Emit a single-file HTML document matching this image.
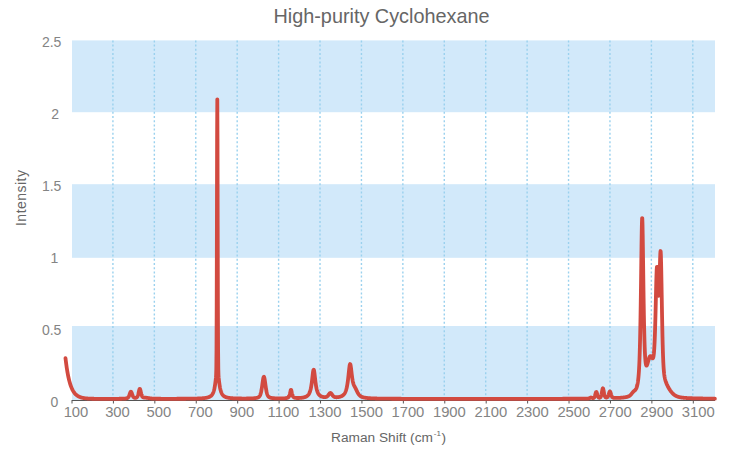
<!DOCTYPE html>
<html><head><meta charset="utf-8"><style>
html,body{margin:0;padding:0;background:#fff;width:745px;height:463px;overflow:hidden}
svg{display:block}
text{font-family:"Liberation Sans",sans-serif}
</style></head><body>
<svg width="745" height="463" viewBox="0 0 745 463">
<text transform="translate(381.5,23.2) scale(0.945,1)" font-size="21" fill="#666" text-anchor="middle">High-purity Cyclohexane</text>
<rect x="72" y="40.4" width="643" height="71.8" fill="#d2e9fa"/><rect x="72" y="184.2" width="643" height="73.6" fill="#d2e9fa"/><rect x="72" y="326" width="643" height="74.5" fill="#d2e9fa"/>
<g stroke="#9ad1ee" stroke-width="1.4" stroke-dasharray="2,2.2"><line x1="112.92" y1="40.4" x2="112.92" y2="400" /><line x1="154.34" y1="40.4" x2="154.34" y2="400" /><line x1="195.76" y1="40.4" x2="195.76" y2="400" /><line x1="237.18" y1="40.4" x2="237.18" y2="400" /><line x1="278.60" y1="40.4" x2="278.60" y2="400" /><line x1="320.02" y1="40.4" x2="320.02" y2="400" /><line x1="361.44" y1="40.4" x2="361.44" y2="400" /><line x1="402.86" y1="40.4" x2="402.86" y2="400" /><line x1="444.28" y1="40.4" x2="444.28" y2="400" /><line x1="485.70" y1="40.4" x2="485.70" y2="400" /><line x1="527.12" y1="40.4" x2="527.12" y2="400" /><line x1="568.54" y1="40.4" x2="568.54" y2="400" /><line x1="609.96" y1="40.4" x2="609.96" y2="400" /><line x1="651.38" y1="40.4" x2="651.38" y2="400" /><line x1="692.80" y1="40.4" x2="692.80" y2="400" /></g>
<g fill="#848484" font-size="14" text-anchor="end"><text x="58.2" y="406.6">0</text><text x="61.4" y="334.5">0.5</text><text x="58.4" y="262.5">1</text><text x="61.4" y="190.5">1.5</text><text x="59" y="118.9">2</text><text x="61.4" y="46.8">2.5</text></g>
<g fill="#848484" font-size="14.8" text-anchor="middle"><text x="76.00" y="417.4">100</text><text x="117.49" y="417.4">300</text><text x="158.97" y="417.4">500</text><text x="200.46" y="417.4">700</text><text x="241.95" y="417.4">900</text><text x="283.43" y="417.4">1100</text><text x="324.92" y="417.4">1300</text><text x="366.41" y="417.4">1500</text><text x="407.89" y="417.4">1700</text><text x="449.38" y="417.4">1900</text><text x="490.87" y="417.4">2100</text><text x="532.35" y="417.4">2300</text><text x="573.84" y="417.4">2500</text><text x="615.33" y="417.4">2700</text><text x="656.81" y="417.4">2900</text><text x="698.30" y="417.4">3100</text></g>
<text transform="translate(26.3,198) rotate(-90)" font-size="14" fill="#666" text-anchor="middle" textLength="56" lengthAdjust="spacing">Intensity</text>
<text x="331" y="441.7" font-size="13.7" fill="#666">Raman Shift (cm<tspan font-size="8" dx="0.8" dy="-5.5">-1</tspan><tspan dx="0.6" dy="5.5">)</tspan></text>
<line x1="72" y1="400.5" x2="715" y2="400.5" stroke="#555" stroke-width="1"/>
<g stroke="#555" stroke-width="1"><line x1="72.00" y1="400" x2="72.00" y2="403.5" /><line x1="113.42" y1="400" x2="113.42" y2="403.5" /><line x1="154.84" y1="400" x2="154.84" y2="403.5" /><line x1="196.26" y1="400" x2="196.26" y2="403.5" /><line x1="237.68" y1="400" x2="237.68" y2="403.5" /><line x1="279.10" y1="400" x2="279.10" y2="403.5" /><line x1="320.52" y1="400" x2="320.52" y2="403.5" /><line x1="361.94" y1="400" x2="361.94" y2="403.5" /><line x1="403.36" y1="400" x2="403.36" y2="403.5" /><line x1="444.78" y1="400" x2="444.78" y2="403.5" /><line x1="486.20" y1="400" x2="486.20" y2="403.5" /><line x1="527.62" y1="400" x2="527.62" y2="403.5" /><line x1="569.04" y1="400" x2="569.04" y2="403.5" /><line x1="610.46" y1="400" x2="610.46" y2="403.5" /><line x1="651.88" y1="400" x2="651.88" y2="403.5" /><line x1="693.30" y1="400" x2="693.30" y2="403.5" /></g>
<path d="M65.5,358.18 L65.7,359.89 L65.9,361.53 L66.1,363.10 L66.3,364.60 L66.5,366.04 L66.7,367.42 L66.9,368.74 L67.1,370.01 L67.3,371.22 L67.5,372.38 L67.7,373.50 L67.9,374.56 L68.1,375.58 L68.3,376.56 L68.5,377.50 L68.7,378.40 L68.9,379.26 L69.1,380.08 L69.3,380.87 L69.5,381.63 L69.7,382.35 L69.9,383.05 L70.1,383.71 L70.3,384.35 L70.5,384.96 L70.7,385.54 L70.9,386.10 L71.1,386.64 L71.3,387.16 L71.5,387.65 L71.7,388.12 L71.9,388.57 L72.1,389.00 L72.3,389.42 L72.5,389.82 L72.7,390.20 L72.9,390.56 L73.1,390.91 L73.3,391.25 L73.5,391.57 L73.7,391.87 L73.9,392.17 L74.1,392.45 L74.3,392.72 L74.5,392.98 L74.7,393.23 L74.9,393.46 L75.1,393.69 L75.3,393.91 L75.5,394.12 L75.7,394.32 L75.9,394.51 L76.1,394.69 L76.3,394.87 L76.5,395.04 L76.7,395.20 L76.9,395.35 L77.1,395.50 L77.3,395.64 L77.5,395.78 L77.7,395.91 L77.9,396.03 L78.1,396.15 L78.3,396.27 L78.5,396.38 L78.7,396.48 L78.9,396.58 L79.1,396.68 L79.3,396.77 L79.5,396.86 L79.7,396.94 L79.9,397.02 L80.1,397.10 L80.3,397.18 L80.5,397.25 L80.7,397.32 L80.9,397.38 L81.1,397.44 L81.3,397.50 L81.5,397.56 L81.7,397.62 L81.9,397.67 L82.1,397.72 L82.3,397.77 L82.5,397.81 L82.7,397.86 L82.9,397.90 L83.1,397.94 L83.3,397.98 L83.5,398.02 L83.7,398.05 L83.9,398.09 L84.1,398.12 L84.3,398.15 L84.5,398.18 L84.7,398.21 L84.9,398.24 L85.1,398.27 L85.3,398.29 L85.5,398.32 L85.7,398.34 L85.9,398.36 L86.1,398.38 L86.3,398.40 L86.5,398.42 L86.7,398.44 L86.9,398.46 L87.1,398.48 L87.3,398.49 L87.5,398.51 L87.7,398.52 L87.9,398.54 L88.1,398.55 L88.3,398.57 L88.5,398.58 L88.7,398.59 L88.9,398.60 L89.1,398.61 L89.3,398.62 L89.5,398.63 L89.7,398.64 L89.9,398.65 L90.1,398.66 L90.3,398.67 L90.5,398.68 L90.7,398.69 L90.9,398.69 L91.1,398.70 L91.3,398.71 L91.5,398.71 L91.7,398.72 L91.9,398.73 L92.1,398.73 L92.3,398.74 L92.5,398.74 L92.7,398.75 L92.9,398.75 L93.1,398.76 L93.3,398.76 L93.5,398.77 L93.7,398.77 L93.9,398.77 L94.1,398.78 L94.3,398.78 L94.5,398.78 L94.7,398.79 L94.9,398.79 L95.1,398.79 L95.3,398.80 L95.5,398.80 L95.7,398.80 L95.9,398.80 L96.1,398.81 L96.3,398.81 L96.5,398.81 L96.7,398.81 L96.9,398.81 L97.1,398.82 L97.3,398.82 L97.5,398.82 L97.7,398.82 L97.9,398.82 L98.1,398.82 L98.3,398.83 L98.5,398.83 L98.7,398.83 L98.9,398.83 L99.1,398.83 L99.3,398.83 L99.5,398.83 L99.7,398.83 L99.9,398.83 L100.1,398.84 L100.3,398.84 L100.5,398.84 L100.7,398.84 L100.9,398.84 L101.1,398.84 L101.3,398.84 L101.5,398.84 L101.7,398.84 L101.9,398.84 L102.1,398.84 L102.3,398.84 L102.5,398.84 L102.7,398.84 L102.9,398.84 L103.1,398.84 L103.3,398.84 L103.5,398.84 L103.7,398.84 L103.9,398.84 L104.1,398.84 L104.3,398.84 L104.5,398.84 L104.7,398.84 L104.9,398.84 L105.1,398.84 L105.3,398.84 L105.5,398.84 L105.7,398.84 L105.9,398.84 L106.1,398.84 L106.3,398.84 L106.5,398.84 L106.7,398.84 L106.9,398.84 L107.1,398.84 L107.3,398.84 L107.5,398.84 L107.7,398.84 L107.9,398.84 L108.1,398.84 L108.3,398.84 L108.5,398.84 L108.7,398.84 L108.9,398.84 L109.1,398.84 L109.3,398.84 L109.5,398.84 L109.7,398.84 L109.9,398.84 L110.1,398.83 L110.3,398.83 L110.5,398.83 L110.7,398.83 L110.9,398.83 L111.1,398.83 L111.3,398.83 L111.5,398.83 L111.7,398.83 L111.9,398.83 L112.1,398.83 L112.3,398.83 L112.5,398.83 L112.7,398.83 L112.9,398.82 L113.1,398.82 L113.3,398.82 L113.5,398.82 L113.7,398.82 L113.9,398.82 L114.1,398.82 L114.3,398.82 L114.5,398.82 L114.7,398.82 L114.9,398.81 L115.1,398.81 L115.3,398.81 L115.5,398.81 L115.7,398.81 L115.9,398.81 L116.1,398.81 L116.3,398.80 L116.5,398.80 L116.7,398.80 L116.9,398.80 L117.1,398.80 L117.3,398.79 L117.5,398.79 L117.7,398.79 L117.9,398.79 L118.1,398.79 L118.3,398.78 L118.5,398.78 L118.7,398.78 L118.9,398.78 L119.1,398.77 L119.3,398.77 L119.5,398.77 L119.7,398.76 L119.9,398.76 L120.1,398.76 L120.3,398.75 L120.5,398.75 L120.7,398.75 L120.9,398.74 L121.1,398.74 L121.3,398.73 L121.5,398.73 L121.7,398.72 L121.9,398.72 L122.1,398.71 L122.3,398.71 L122.5,398.70 L122.7,398.69 L122.9,398.68 L123.1,398.68 L123.3,398.67 L123.5,398.66 L123.7,398.65 L123.9,398.64 L124.1,398.63 L124.3,398.62 L124.5,398.60 L124.7,398.59 L124.9,398.57 L125.1,398.56 L125.3,398.54 L125.5,398.52 L125.7,398.49 L125.9,398.47 L126.1,398.44 L126.3,398.40 L126.5,398.36 L126.7,398.31 L126.9,398.26 L127.1,398.18 L127.3,398.10 L127.5,397.99 L127.7,397.85 L127.9,397.69 L128.1,397.49 L128.3,397.24 L128.5,396.95 L128.7,396.60 L128.9,396.20 L129.1,395.75 L129.3,395.24 L129.5,394.70 L129.7,394.12 L129.9,393.54 L130.1,392.98 L130.3,392.47 L130.5,392.07 L130.7,391.80 L130.9,391.70 L131.1,391.78 L131.3,392.04 L131.5,392.43 L131.7,392.92 L131.9,393.47 L132.1,394.04 L132.3,394.60 L132.5,395.13 L132.7,395.61 L132.9,396.05 L133.1,396.43 L133.3,396.76 L133.5,397.03 L133.7,397.25 L133.9,397.43 L134.1,397.57 L134.3,397.68 L134.5,397.76 L134.7,397.81 L134.9,397.84 L135.1,397.86 L135.3,397.86 L135.5,397.85 L135.7,397.83 L135.9,397.79 L136.1,397.73 L136.3,397.65 L136.5,397.55 L136.7,397.42 L136.9,397.24 L137.1,397.02 L137.3,396.74 L137.5,396.39 L137.7,395.95 L137.9,395.42 L138.1,394.80 L138.3,394.08 L138.5,393.28 L138.7,392.40 L138.9,391.48 L139.1,390.58 L139.3,389.77 L139.5,389.15 L139.7,388.81 L139.9,388.80 L140.1,389.13 L140.3,389.73 L140.5,390.52 L140.7,391.40 L140.9,392.30 L141.1,393.16 L141.3,393.95 L141.5,394.65 L141.7,395.26 L141.9,395.77 L142.1,396.18 L142.3,396.52 L142.5,396.79 L142.7,397.00 L142.9,397.16 L143.1,397.28 L143.3,397.37 L143.5,397.44 L143.7,397.50 L143.9,397.54 L144.1,397.57 L144.3,397.60 L144.5,397.62 L144.7,397.63 L144.9,397.65 L145.1,397.66 L145.3,397.68 L145.5,397.69 L145.7,397.71 L145.9,397.72 L146.1,397.74 L146.3,397.76 L146.5,397.78 L146.7,397.81 L146.9,397.83 L147.1,397.86 L147.3,397.89 L147.5,397.92 L147.7,397.95 L147.9,397.99 L148.1,398.02 L148.3,398.05 L148.5,398.08 L148.7,398.12 L148.9,398.15 L149.1,398.18 L149.3,398.21 L149.5,398.25 L149.7,398.28 L149.9,398.31 L150.1,398.33 L150.3,398.36 L150.5,398.39 L150.7,398.41 L150.9,398.44 L151.1,398.46 L151.3,398.48 L151.5,398.50 L151.7,398.52 L151.9,398.54 L152.1,398.56 L152.3,398.57 L152.5,398.59 L152.7,398.60 L152.9,398.61 L153.1,398.63 L153.3,398.64 L153.5,398.65 L153.7,398.66 L153.9,398.67 L154.1,398.67 L154.3,398.68 L154.5,398.69 L154.7,398.70 L154.9,398.70 L155.1,398.71 L155.3,398.71 L155.5,398.72 L155.7,398.72 L155.9,398.73 L156.1,398.73 L156.3,398.73 L156.5,398.74 L156.7,398.74 L156.9,398.74 L157.1,398.74 L157.3,398.75 L157.5,398.75 L157.7,398.75 L157.9,398.75 L158.1,398.76 L158.3,398.76 L158.5,398.76 L158.7,398.76 L158.9,398.76 L159.1,398.76 L159.3,398.77 L159.5,398.77 L159.7,398.77 L159.9,398.77 L160.1,398.77 L160.3,398.77 L160.5,398.77 L160.7,398.77 L160.9,398.78 L161.1,398.78 L161.3,398.78 L161.5,398.78 L161.7,398.78 L161.9,398.78 L162.1,398.78 L162.3,398.78 L162.5,398.78 L162.7,398.78 L162.9,398.78 L163.1,398.78 L163.3,398.78 L163.5,398.78 L163.7,398.78 L163.9,398.79 L164.1,398.79 L164.3,398.79 L164.5,398.79 L164.7,398.79 L164.9,398.79 L165.1,398.79 L165.3,398.79 L165.5,398.79 L165.7,398.79 L165.9,398.79 L166.1,398.79 L166.3,398.79 L166.5,398.79 L166.7,398.79 L166.9,398.79 L167.1,398.79 L167.3,398.79 L167.5,398.79 L167.7,398.79 L167.9,398.79 L168.1,398.79 L168.3,398.79 L168.5,398.79 L168.7,398.79 L168.9,398.79 L169.1,398.79 L169.3,398.79 L169.5,398.79 L169.7,398.79 L169.9,398.79 L170.1,398.79 L170.3,398.79 L170.5,398.79 L170.7,398.79 L170.9,398.79 L171.1,398.79 L171.3,398.79 L171.5,398.79 L171.7,398.79 L171.9,398.79 L172.1,398.79 L172.3,398.79 L172.5,398.79 L172.7,398.79 L172.9,398.78 L173.1,398.78 L173.3,398.78 L173.5,398.78 L173.7,398.78 L173.9,398.78 L174.1,398.78 L174.3,398.78 L174.5,398.78 L174.7,398.78 L174.9,398.78 L175.1,398.78 L175.3,398.78 L175.5,398.78 L175.7,398.78 L175.9,398.78 L176.1,398.78 L176.3,398.78 L176.5,398.78 L176.7,398.78 L176.9,398.77 L177.1,398.77 L177.3,398.77 L177.5,398.77 L177.7,398.77 L177.9,398.77 L178.1,398.77 L178.3,398.77 L178.5,398.77 L178.7,398.77 L178.9,398.77 L179.1,398.77 L179.3,398.77 L179.5,398.76 L179.7,398.76 L179.9,398.76 L180.1,398.76 L180.3,398.76 L180.5,398.76 L180.7,398.76 L180.9,398.76 L181.1,398.76 L181.3,398.76 L181.5,398.75 L181.7,398.75 L181.9,398.75 L182.1,398.75 L182.3,398.75 L182.5,398.75 L182.7,398.75 L182.9,398.75 L183.1,398.75 L183.3,398.74 L183.5,398.74 L183.7,398.74 L183.9,398.74 L184.1,398.74 L184.3,398.74 L184.5,398.74 L184.7,398.73 L184.9,398.73 L185.1,398.73 L185.3,398.73 L185.5,398.73 L185.7,398.73 L185.9,398.72 L186.1,398.72 L186.3,398.72 L186.5,398.72 L186.7,398.72 L186.9,398.72 L187.1,398.71 L187.3,398.71 L187.5,398.71 L187.7,398.71 L187.9,398.71 L188.1,398.70 L188.3,398.70 L188.5,398.70 L188.7,398.70 L188.9,398.70 L189.1,398.69 L189.3,398.69 L189.5,398.69 L189.7,398.69 L189.9,398.68 L190.1,398.68 L190.3,398.68 L190.5,398.68 L190.7,398.67 L190.9,398.67 L191.1,398.67 L191.3,398.66 L191.5,398.66 L191.7,398.66 L191.9,398.65 L192.1,398.65 L192.3,398.65 L192.5,398.64 L192.7,398.64 L192.9,398.64 L193.1,398.63 L193.3,398.63 L193.5,398.63 L193.7,398.62 L193.9,398.62 L194.1,398.61 L194.3,398.61 L194.5,398.61 L194.7,398.60 L194.9,398.60 L195.1,398.59 L195.3,398.59 L195.5,398.58 L195.7,398.58 L195.9,398.57 L196.1,398.57 L196.3,398.56 L196.5,398.55 L196.7,398.55 L196.9,398.54 L197.1,398.54 L197.3,398.53 L197.5,398.52 L197.7,398.52 L197.9,398.51 L198.1,398.50 L198.3,398.49 L198.5,398.49 L198.7,398.48 L198.9,398.47 L199.1,398.46 L199.3,398.45 L199.5,398.44 L199.7,398.43 L199.9,398.42 L200.1,398.41 L200.3,398.40 L200.5,398.39 L200.7,398.38 L200.9,398.37 L201.1,398.36 L201.3,398.35 L201.5,398.33 L201.7,398.32 L201.9,398.31 L202.1,398.29 L202.3,398.28 L202.5,398.26 L202.7,398.25 L202.9,398.23 L203.1,398.21 L203.3,398.19 L203.5,398.17 L203.7,398.15 L203.9,398.13 L204.1,398.11 L204.3,398.09 L204.5,398.07 L204.7,398.04 L204.9,398.02 L205.1,397.99 L205.3,397.96 L205.5,397.93 L205.7,397.90 L205.9,397.87 L206.1,397.83 L206.3,397.80 L206.5,397.76 L206.7,397.72 L206.9,397.68 L207.1,397.63 L207.3,397.58 L207.5,397.53 L207.7,397.48 L207.9,397.42 L208.1,397.36 L208.3,397.30 L208.5,397.23 L208.7,397.16 L208.9,397.08 L209.1,397.00 L209.3,396.92 L209.5,396.82 L209.7,396.72 L209.9,396.61 L210.1,396.50 L210.3,396.37 L210.5,396.24 L210.7,396.09 L210.9,395.93 L211.1,395.76 L211.3,395.57 L211.5,395.37 L211.7,395.15 L211.9,394.91 L212.1,394.64 L212.3,394.35 L212.5,394.03 L212.7,393.67 L212.9,393.28 L213.1,392.85 L213.3,392.36 L213.5,391.83 L213.7,391.23 L213.9,390.56 L214.1,389.81 L214.3,388.98 L214.5,388.04 L214.7,387.00 L214.9,385.83 L215.1,384.54 L215.3,383.11 L215.5,381.55 L215.7,379.85 L215.9,377.95 L216.1,375.29 L216.3,369.09 L216.5,350.85 L216.7,305.61 L216.9,226.17 L217.1,138.81 L217.3,99.34 L217.5,138.81 L217.7,226.17 L217.9,305.61 L218.1,350.84 L218.3,369.09 L218.5,375.28 L218.7,377.95 L218.9,379.84 L219.1,381.54 L219.3,383.11 L219.5,384.53 L219.7,385.83 L219.9,386.99 L220.1,388.04 L220.3,388.97 L220.5,389.80 L220.7,390.55 L220.9,391.22 L221.1,391.82 L221.3,392.35 L221.5,392.83 L221.7,393.27 L221.9,393.66 L222.1,394.01 L222.3,394.33 L222.5,394.62 L222.7,394.89 L222.9,395.13 L223.1,395.35 L223.3,395.56 L223.5,395.74 L223.7,395.91 L223.9,396.07 L224.1,396.22 L224.3,396.35 L224.5,396.48 L224.7,396.59 L224.9,396.70 L225.1,396.80 L225.3,396.89 L225.5,396.98 L225.7,397.06 L225.9,397.14 L226.1,397.21 L226.3,397.27 L226.5,397.34 L226.7,397.40 L226.9,397.45 L227.1,397.50 L227.3,397.55 L227.5,397.60 L227.7,397.64 L227.9,397.69 L228.1,397.73 L228.3,397.76 L228.5,397.80 L228.7,397.83 L228.9,397.86 L229.1,397.89 L229.3,397.92 L229.5,397.95 L229.7,397.98 L229.9,398.00 L230.1,398.03 L230.3,398.05 L230.5,398.07 L230.7,398.09 L230.9,398.11 L231.1,398.13 L231.3,398.15 L231.5,398.17 L231.7,398.18 L231.9,398.20 L232.1,398.21 L232.3,398.23 L232.5,398.24 L232.7,398.26 L232.9,398.27 L233.1,398.28 L233.3,398.29 L233.5,398.30 L233.7,398.32 L233.9,398.33 L234.1,398.34 L234.3,398.35 L234.5,398.35 L234.7,398.36 L234.9,398.37 L235.1,398.38 L235.3,398.39 L235.5,398.40 L235.7,398.40 L235.9,398.41 L236.1,398.42 L236.3,398.42 L236.5,398.43 L236.7,398.44 L236.9,398.44 L237.1,398.45 L237.3,398.45 L237.5,398.46 L237.7,398.46 L237.9,398.47 L238.1,398.47 L238.3,398.48 L238.5,398.48 L238.7,398.49 L238.9,398.49 L239.1,398.49 L239.3,398.50 L239.5,398.50 L239.7,398.50 L239.9,398.51 L240.1,398.51 L240.3,398.51 L240.5,398.51 L240.7,398.52 L240.9,398.52 L241.1,398.52 L241.3,398.52 L241.5,398.52 L241.7,398.53 L241.9,398.53 L242.1,398.53 L242.3,398.53 L242.5,398.53 L242.7,398.53 L242.9,398.53 L243.1,398.53 L243.3,398.53 L243.5,398.53 L243.7,398.53 L243.9,398.54 L244.1,398.54 L244.3,398.54 L244.5,398.53 L244.7,398.53 L244.9,398.53 L245.1,398.53 L245.3,398.53 L245.5,398.53 L245.7,398.53 L245.9,398.53 L246.1,398.53 L246.3,398.53 L246.5,398.52 L246.7,398.52 L246.9,398.52 L247.1,398.52 L247.3,398.52 L247.5,398.51 L247.7,398.51 L247.9,398.51 L248.1,398.50 L248.3,398.50 L248.5,398.50 L248.7,398.49 L248.9,398.49 L249.1,398.49 L249.3,398.48 L249.5,398.48 L249.7,398.47 L249.9,398.46 L250.1,398.46 L250.3,398.45 L250.5,398.45 L250.7,398.44 L250.9,398.43 L251.1,398.42 L251.3,398.42 L251.5,398.41 L251.7,398.40 L251.9,398.39 L252.1,398.38 L252.3,398.37 L252.5,398.36 L252.7,398.35 L252.9,398.33 L253.1,398.32 L253.3,398.31 L253.5,398.29 L253.7,398.27 L253.9,398.26 L254.1,398.24 L254.3,398.22 L254.5,398.20 L254.7,398.18 L254.9,398.16 L255.1,398.13 L255.3,398.10 L255.5,398.08 L255.7,398.05 L255.9,398.01 L256.1,397.98 L256.3,397.94 L256.5,397.90 L256.7,397.86 L256.9,397.81 L257.1,397.76 L257.3,397.70 L257.5,397.64 L257.7,397.57 L257.9,397.49 L258.1,397.41 L258.3,397.31 L258.5,397.19 L258.7,397.06 L258.9,396.91 L259.1,396.73 L259.3,396.53 L259.5,396.28 L259.7,395.99 L259.9,395.64 L260.1,395.24 L260.3,394.76 L260.5,394.20 L260.7,393.56 L260.9,392.81 L261.1,391.97 L261.3,391.02 L261.5,389.96 L261.7,388.80 L261.9,387.54 L262.1,386.20 L262.3,384.79 L262.5,383.35 L262.7,381.91 L262.9,380.53 L263.1,379.26 L263.3,378.19 L263.5,377.37 L263.7,376.87 L263.9,376.74 L264.1,376.98 L264.3,377.58 L264.5,378.48 L264.7,379.63 L264.9,380.93 L265.1,382.34 L265.3,383.78 L265.5,385.21 L265.7,386.60 L265.9,387.92 L266.1,389.15 L266.3,390.29 L266.5,391.31 L266.7,392.23 L266.9,393.04 L267.1,393.75 L267.3,394.37 L267.5,394.90 L267.7,395.35 L267.9,395.74 L268.1,396.07 L268.3,396.35 L268.5,396.58 L268.7,396.78 L268.9,396.95 L269.1,397.09 L269.3,397.22 L269.5,397.32 L269.7,397.42 L269.9,397.50 L270.1,397.58 L270.3,397.64 L270.5,397.70 L270.7,397.76 L270.9,397.81 L271.1,397.85 L271.3,397.89 L271.5,397.93 L271.7,397.97 L271.9,398.00 L272.1,398.03 L272.3,398.06 L272.5,398.09 L272.7,398.11 L272.9,398.14 L273.1,398.16 L273.3,398.18 L273.5,398.20 L273.7,398.22 L273.9,398.23 L274.1,398.25 L274.3,398.26 L274.5,398.28 L274.7,398.29 L274.9,398.30 L275.1,398.31 L275.3,398.32 L275.5,398.33 L275.7,398.34 L275.9,398.35 L276.1,398.36 L276.3,398.37 L276.5,398.37 L276.7,398.38 L276.9,398.39 L277.1,398.39 L277.3,398.40 L277.5,398.40 L277.7,398.41 L277.9,398.41 L278.1,398.41 L278.3,398.42 L278.5,398.42 L278.7,398.42 L278.9,398.42 L279.1,398.43 L279.3,398.43 L279.5,398.43 L279.7,398.43 L279.9,398.43 L280.1,398.43 L280.3,398.43 L280.5,398.43 L280.7,398.43 L280.9,398.43 L281.1,398.42 L281.3,398.42 L281.5,398.42 L281.7,398.42 L281.9,398.41 L282.1,398.41 L282.3,398.40 L282.5,398.40 L282.7,398.39 L282.9,398.39 L283.1,398.38 L283.3,398.37 L283.5,398.36 L283.7,398.35 L283.9,398.34 L284.1,398.33 L284.3,398.32 L284.5,398.31 L284.7,398.29 L284.9,398.28 L285.1,398.26 L285.3,398.24 L285.5,398.21 L285.7,398.19 L285.9,398.16 L286.1,398.13 L286.3,398.10 L286.5,398.06 L286.7,398.01 L286.9,397.96 L287.1,397.91 L287.3,397.84 L287.5,397.77 L287.7,397.68 L287.9,397.57 L288.1,397.45 L288.3,397.30 L288.5,397.11 L288.7,396.89 L288.9,396.61 L289.1,396.27 L289.3,395.84 L289.5,395.31 L289.7,394.68 L289.9,393.92 L290.1,393.04 L290.3,392.08 L290.5,391.13 L290.7,390.32 L290.9,389.85 L291.1,389.85 L291.3,390.31 L291.5,391.11 L291.7,392.05 L291.9,393.01 L292.1,393.87 L292.3,394.63 L292.5,395.26 L292.7,395.77 L292.9,396.19 L293.1,396.53 L293.3,396.80 L293.5,397.02 L293.7,397.19 L293.9,397.34 L294.1,397.45 L294.3,397.55 L294.5,397.63 L294.7,397.70 L294.9,397.75 L295.1,397.80 L295.3,397.84 L295.5,397.88 L295.7,397.91 L295.9,397.93 L296.1,397.95 L296.3,397.97 L296.5,397.98 L296.7,398.00 L296.9,398.01 L297.1,398.01 L297.3,398.02 L297.5,398.02 L297.7,398.02 L297.9,398.02 L298.1,398.02 L298.3,398.02 L298.5,398.01 L298.7,398.01 L298.9,398.00 L299.1,397.99 L299.3,397.98 L299.5,397.97 L299.7,397.96 L299.9,397.95 L300.1,397.94 L300.3,397.92 L300.5,397.90 L300.7,397.89 L300.9,397.87 L301.1,397.85 L301.3,397.83 L301.5,397.80 L301.7,397.78 L301.9,397.75 L302.1,397.72 L302.3,397.70 L302.5,397.66 L302.7,397.63 L302.9,397.60 L303.1,397.56 L303.3,397.52 L303.5,397.48 L303.7,397.43 L303.9,397.38 L304.1,397.33 L304.3,397.28 L304.5,397.22 L304.7,397.16 L304.9,397.10 L305.1,397.03 L305.3,396.95 L305.5,396.87 L305.7,396.79 L305.9,396.70 L306.1,396.60 L306.3,396.49 L306.5,396.38 L306.7,396.26 L306.9,396.13 L307.1,395.98 L307.3,395.83 L307.5,395.66 L307.7,395.48 L307.9,395.28 L308.1,395.06 L308.3,394.82 L308.5,394.56 L308.7,394.28 L308.9,393.96 L309.1,393.61 L309.3,393.23 L309.5,392.80 L309.7,392.32 L309.9,391.80 L310.1,391.21 L310.3,390.55 L310.5,389.82 L310.7,388.99 L310.9,388.07 L311.1,387.05 L311.3,385.90 L311.5,384.63 L311.7,383.23 L311.9,381.70 L312.1,380.05 L312.3,378.31 L312.5,376.52 L312.7,374.74 L312.9,373.08 L313.1,371.63 L313.3,370.51 L313.5,369.82 L313.7,369.64 L313.9,369.97 L314.1,370.80 L314.3,372.02 L314.5,373.54 L314.7,375.24 L314.9,377.03 L315.1,378.80 L315.3,380.52 L315.5,382.13 L315.7,383.61 L315.9,384.97 L316.1,386.20 L316.3,387.30 L316.5,388.29 L316.7,389.18 L316.9,389.97 L317.1,390.67 L317.3,391.30 L317.5,391.87 L317.7,392.37 L317.9,392.83 L318.1,393.24 L318.3,393.60 L318.5,393.94 L318.7,394.24 L318.9,394.51 L319.1,394.76 L319.3,394.98 L319.5,395.19 L319.7,395.37 L319.9,395.55 L320.1,395.70 L320.3,395.84 L320.5,395.98 L320.7,396.10 L320.9,396.21 L321.1,396.31 L321.3,396.40 L321.5,396.49 L321.7,396.57 L321.9,396.64 L322.1,396.71 L322.3,396.77 L322.5,396.82 L322.7,396.87 L322.9,396.92 L323.1,396.96 L323.3,397.00 L323.5,397.03 L323.7,397.06 L323.9,397.08 L324.1,397.10 L324.3,397.11 L324.5,397.12 L324.7,397.13 L324.9,397.12 L325.1,397.12 L325.3,397.10 L325.5,397.08 L325.7,397.04 L325.9,397.00 L326.1,396.94 L326.3,396.88 L326.5,396.80 L326.7,396.70 L326.9,396.58 L327.1,396.45 L327.3,396.30 L327.5,396.12 L327.7,395.93 L327.9,395.71 L328.1,395.48 L328.3,395.23 L328.5,394.96 L328.7,394.67 L328.9,394.38 L329.1,394.09 L329.3,393.81 L329.5,393.55 L329.7,393.31 L329.9,393.12 L330.1,392.99 L330.3,392.92 L330.5,392.92 L330.7,392.99 L330.9,393.12 L331.1,393.32 L331.3,393.55 L331.5,393.82 L331.7,394.11 L331.9,394.40 L332.1,394.69 L332.3,394.97 L332.5,395.25 L332.7,395.50 L332.9,395.74 L333.1,395.96 L333.3,396.15 L333.5,396.33 L333.7,396.49 L333.9,396.62 L334.1,396.74 L334.3,396.84 L334.5,396.93 L334.7,397.00 L334.9,397.06 L335.1,397.11 L335.3,397.15 L335.5,397.18 L335.7,397.21 L335.9,397.22 L336.1,397.23 L336.3,397.24 L336.5,397.24 L336.7,397.24 L336.9,397.23 L337.1,397.22 L337.3,397.21 L337.5,397.19 L337.7,397.17 L337.9,397.15 L338.1,397.13 L338.3,397.10 L338.5,397.07 L338.7,397.04 L338.9,397.00 L339.1,396.96 L339.3,396.92 L339.5,396.87 L339.7,396.82 L339.9,396.77 L340.1,396.71 L340.3,396.65 L340.5,396.58 L340.7,396.51 L340.9,396.44 L341.1,396.36 L341.3,396.27 L341.5,396.18 L341.7,396.08 L341.9,395.97 L342.1,395.86 L342.3,395.74 L342.5,395.61 L342.7,395.47 L342.9,395.31 L343.1,395.15 L343.3,394.97 L343.5,394.78 L343.7,394.57 L343.9,394.35 L344.1,394.10 L344.3,393.84 L344.5,393.55 L344.7,393.23 L344.9,392.89 L345.1,392.51 L345.3,392.10 L345.5,391.65 L345.7,391.15 L345.9,390.60 L346.1,389.99 L346.3,389.32 L346.5,388.57 L346.7,387.75 L346.9,386.84 L347.1,385.83 L347.3,384.71 L347.5,383.48 L347.7,382.12 L347.9,380.64 L348.1,379.03 L348.3,377.29 L348.5,375.45 L348.7,373.54 L348.9,371.61 L349.1,369.71 L349.3,367.94 L349.5,366.40 L349.7,365.18 L349.9,364.37 L350.1,364.03 L350.3,364.18 L350.5,364.81 L350.7,365.85 L350.9,367.20 L351.1,368.78 L351.3,370.48 L351.5,372.21 L351.7,373.91 L351.9,375.52 L352.1,377.03 L352.3,378.41 L352.5,379.65 L352.7,380.76 L352.9,381.74 L353.1,382.60 L353.3,383.36 L353.5,384.01 L353.7,384.59 L353.9,385.10 L354.1,385.55 L354.3,385.96 L354.5,386.34 L354.7,386.71 L354.9,387.07 L355.1,387.43 L355.3,387.80 L355.5,388.18 L355.7,388.58 L355.9,388.99 L356.1,389.41 L356.3,389.83 L356.5,390.26 L356.7,390.69 L356.9,391.11 L357.1,391.53 L357.3,391.93 L357.5,392.32 L357.7,392.69 L357.9,393.04 L358.1,393.38 L358.3,393.70 L358.5,394.00 L358.7,394.29 L358.9,394.55 L359.1,394.80 L359.3,395.03 L359.5,395.25 L359.7,395.45 L359.9,395.63 L360.1,395.81 L360.3,395.97 L360.5,396.12 L360.7,396.25 L360.9,396.38 L361.1,396.50 L361.3,396.60 L361.5,396.71 L361.7,396.80 L361.9,396.89 L362.1,396.97 L362.3,397.04 L362.5,397.11 L362.7,397.18 L362.9,397.24 L363.1,397.29 L363.3,397.35 L363.5,397.40 L363.7,397.45 L363.9,397.49 L364.1,397.54 L364.3,397.58 L364.5,397.62 L364.7,397.65 L364.9,397.69 L365.1,397.72 L365.3,397.75 L365.5,397.78 L365.7,397.81 L365.9,397.84 L366.1,397.87 L366.3,397.90 L366.5,397.92 L366.7,397.94 L366.9,397.97 L367.1,397.99 L367.3,398.01 L367.5,398.03 L367.7,398.05 L367.9,398.07 L368.1,398.09 L368.3,398.11 L368.5,398.12 L368.7,398.14 L368.9,398.16 L369.1,398.17 L369.3,398.19 L369.5,398.20 L369.7,398.21 L369.9,398.23 L370.1,398.24 L370.3,398.25 L370.5,398.27 L370.7,398.28 L370.9,398.29 L371.1,398.30 L371.3,398.31 L371.5,398.32 L371.7,398.33 L371.9,398.34 L372.1,398.35 L372.3,398.36 L372.5,398.37 L372.7,398.38 L372.9,398.39 L373.1,398.40 L373.3,398.40 L373.5,398.41 L373.7,398.42 L373.9,398.43 L374.1,398.44 L374.3,398.44 L374.5,398.45 L374.7,398.46 L374.9,398.46 L375.1,398.47 L375.3,398.48 L375.5,398.48 L375.7,398.49 L375.9,398.49 L376.1,398.50 L376.3,398.51 L376.5,398.51 L376.7,398.52 L376.9,398.52 L377.1,398.53 L377.3,398.53 L377.5,398.54 L377.7,398.54 L377.9,398.55 L378.1,398.55 L378.3,398.56 L378.5,398.56 L378.7,398.56 L378.9,398.57 L379.1,398.57 L379.3,398.58 L379.5,398.58 L379.7,398.58 L379.9,398.59 L380.1,398.59 L380.3,398.60 L380.5,398.60 L380.7,398.60 L380.9,398.61 L381.1,398.61 L381.3,398.61 L381.5,398.62 L381.7,398.62 L381.9,398.62 L382.1,398.63 L382.3,398.63 L382.5,398.63 L382.7,398.63 L382.9,398.64 L383.1,398.64 L383.3,398.64 L383.5,398.65 L383.7,398.65 L383.9,398.65 L384.1,398.65 L384.3,398.66 L384.5,398.66 L384.7,398.66 L384.9,398.66 L385.1,398.67 L385.3,398.67 L385.5,398.67 L385.7,398.67 L385.9,398.67 L386.1,398.68 L386.3,398.68 L386.5,398.68 L386.7,398.68 L386.9,398.69 L387.1,398.69 L387.3,398.69 L387.5,398.69 L387.7,398.69 L387.9,398.70 L388.1,398.70 L388.3,398.70 L388.5,398.70 L388.7,398.70 L388.9,398.70 L389.1,398.71 L389.3,398.71 L389.5,398.71 L389.7,398.71 L389.9,398.71 L390.1,398.71 L390.3,398.72 L390.5,398.72 L390.7,398.72 L390.9,398.72 L391.1,398.72 L391.3,398.72 L391.5,398.72 L391.7,398.73 L391.9,398.73 L392.1,398.73 L392.3,398.73 L392.5,398.73 L392.7,398.73 L392.9,398.73 L393.1,398.74 L393.3,398.74 L393.5,398.74 L393.7,398.74 L393.9,398.74 L394.1,398.74 L394.3,398.74 L394.5,398.74 L394.7,398.74 L394.9,398.75 L395.1,398.75 L395.3,398.75 L395.5,398.75 L395.7,398.75 L395.9,398.75 L396.1,398.75 L396.3,398.75 L396.5,398.75 L396.7,398.76 L396.9,398.76 L397.1,398.76 L397.3,398.76 L397.5,398.76 L397.7,398.76 L397.9,398.76 L398.1,398.76 L398.3,398.76 L398.5,398.76 L398.7,398.76 L398.9,398.77 L399.1,398.77 L399.3,398.77 L399.5,398.77 L399.7,398.77 L399.9,398.77 L400.1,398.77 L400.3,398.77 L400.5,398.77 L400.7,398.77 L400.9,398.77 L401.1,398.77 L401.3,398.78 L401.5,398.78 L401.7,398.78 L401.9,398.78 L402.1,398.78 L402.3,398.78 L402.5,398.78 L402.7,398.78 L402.9,398.78 L403.1,398.78 L403.3,398.78 L403.5,398.78 L403.7,398.78 L403.9,398.78 L404.1,398.79 L404.3,398.79 L404.5,398.79 L404.7,398.79 L404.9,398.79 L405.1,398.79 L405.3,398.79 L405.5,398.79 L405.7,398.79 L405.9,398.79 L406.1,398.79 L406.3,398.79 L406.5,398.79 L406.7,398.79 L406.9,398.79 L407.1,398.79 L407.3,398.79 L407.5,398.80 L407.7,398.80 L407.9,398.80 L408.1,398.80 L408.3,398.80 L408.5,398.80 L408.7,398.80 L408.9,398.80 L409.1,398.80 L409.3,398.80 L409.5,398.80 L409.7,398.80 L409.9,398.80 L410.1,398.80 L410.3,398.80 L410.5,398.80 L410.7,398.80 L410.9,398.80 L411.1,398.80 L411.3,398.80 L411.5,398.80 L411.7,398.81 L411.9,398.81 L412.1,398.81 L412.3,398.81 L412.5,398.81 L412.7,398.81 L412.9,398.81 L413.1,398.81 L413.3,398.81 L413.5,398.81 L413.7,398.81 L413.9,398.81 L414.1,398.81 L414.3,398.81 L414.5,398.81 L414.7,398.81 L414.9,398.81 L415.1,398.81 L415.3,398.81 L415.5,398.81 L415.7,398.81 L415.9,398.81 L416.1,398.81 L416.3,398.81 L416.5,398.81 L416.7,398.81 L416.9,398.82 L417.1,398.82 L417.3,398.82 L417.5,398.82 L417.7,398.82 L417.9,398.82 L418.1,398.82 L418.3,398.82 L418.5,398.82 L418.7,398.82 L418.9,398.82 L419.1,398.82 L419.3,398.82 L419.5,398.82 L419.7,398.82 L419.9,398.82 L420.1,398.82 L420.3,398.82 L420.5,398.82 L420.7,398.82 L420.9,398.82 L421.1,398.82 L421.3,398.82 L421.5,398.82 L421.7,398.82 L421.9,398.82 L422.1,398.82 L422.3,398.82 L422.5,398.82 L422.7,398.82 L422.9,398.82 L423.1,398.82 L423.3,398.82 L423.5,398.82 L423.7,398.83 L423.9,398.83 L424.1,398.83 L424.3,398.83 L424.5,398.83 L424.7,398.83 L424.9,398.83 L425.1,398.83 L425.3,398.83 L425.5,398.83 L425.7,398.83 L425.9,398.83 L426.1,398.83 L426.3,398.83 L426.5,398.83 L426.7,398.83 L426.9,398.83 L427.1,398.83 L427.3,398.83 L427.5,398.83 L427.7,398.83 L427.9,398.83 L428.1,398.83 L428.3,398.83 L428.5,398.83 L428.7,398.83 L428.9,398.83 L429.1,398.83 L429.3,398.83 L429.5,398.83 L429.7,398.83 L429.9,398.83 L430.1,398.83 L430.3,398.83 L430.5,398.83 L430.7,398.83 L430.9,398.83 L431.1,398.83 L431.3,398.83 L431.5,398.83 L431.7,398.83 L431.9,398.83 L432.1,398.83 L432.3,398.83 L432.5,398.83 L432.7,398.83 L432.9,398.83 L433.1,398.83 L433.3,398.83 L433.5,398.84 L433.7,398.84 L433.9,398.84 L434.1,398.84 L434.3,398.84 L434.5,398.84 L434.7,398.84 L434.9,398.84 L435.1,398.84 L435.3,398.84 L435.5,398.84 L435.7,398.84 L435.9,398.84 L436.1,398.84 L436.3,398.84 L436.5,398.84 L436.7,398.84 L436.9,398.84 L437.1,398.84 L437.3,398.84 L437.5,398.84 L437.7,398.84 L437.9,398.84 L438.1,398.84 L438.3,398.84 L438.5,398.84 L438.7,398.84 L438.9,398.84 L439.1,398.84 L439.3,398.84 L439.5,398.84 L439.7,398.84 L439.9,398.84 L440.1,398.84 L440.3,398.84 L440.5,398.84 L440.7,398.84 L440.9,398.84 L441.1,398.84 L441.3,398.84 L441.5,398.84 L441.7,398.84 L441.9,398.84 L442.1,398.84 L442.3,398.84 L442.5,398.84 L442.7,398.84 L442.9,398.84 L443.1,398.84 L443.3,398.84 L443.5,398.84 L443.7,398.84 L443.9,398.84 L444.1,398.84 L444.3,398.84 L444.5,398.84 L444.7,398.84 L444.9,398.84 L445.1,398.84 L445.3,398.84 L445.5,398.84 L445.7,398.84 L445.9,398.84 L446.1,398.84 L446.3,398.84 L446.5,398.84 L446.7,398.84 L446.9,398.84 L447.1,398.84 L447.3,398.84 L447.5,398.84 L447.7,398.84 L447.9,398.84 L448.1,398.84 L448.3,398.84 L448.5,398.84 L448.7,398.84 L448.9,398.84 L449.1,398.84 L449.3,398.84 L449.5,398.84 L449.7,398.84 L449.9,398.84 L450.1,398.84 L450.3,398.84 L450.5,398.84 L450.7,398.84 L450.9,398.85 L451.1,398.85 L451.3,398.85 L451.5,398.85 L451.7,398.85 L451.9,398.85 L452.1,398.85 L452.3,398.85 L452.5,398.85 L452.7,398.85 L452.9,398.85 L453.1,398.85 L453.3,398.85 L453.5,398.85 L453.7,398.85 L453.9,398.85 L454.1,398.85 L454.3,398.85 L454.5,398.85 L454.7,398.85 L454.9,398.85 L455.1,398.85 L455.3,398.85 L455.5,398.85 L455.7,398.85 L455.9,398.85 L456.1,398.85 L456.3,398.85 L456.5,398.85 L456.7,398.85 L456.9,398.85 L457.1,398.85 L457.3,398.85 L457.5,398.85 L457.7,398.85 L457.9,398.85 L458.1,398.85 L458.3,398.85 L458.5,398.85 L458.7,398.85 L458.9,398.85 L459.1,398.85 L459.3,398.85 L459.5,398.85 L459.7,398.85 L459.9,398.85 L460.1,398.85 L460.3,398.85 L460.5,398.85 L460.7,398.85 L460.9,398.85 L461.1,398.85 L461.3,398.85 L461.5,398.85 L461.7,398.85 L461.9,398.85 L462.1,398.85 L462.3,398.85 L462.5,398.85 L462.7,398.85 L462.9,398.85 L463.1,398.85 L463.3,398.85 L463.5,398.85 L463.7,398.85 L463.9,398.85 L464.1,398.85 L464.3,398.85 L464.5,398.85 L464.7,398.85 L464.9,398.85 L465.1,398.85 L465.3,398.85 L465.5,398.85 L465.7,398.85 L465.9,398.85 L466.1,398.85 L466.3,398.85 L466.5,398.85 L466.7,398.85 L466.9,398.85 L467.1,398.85 L467.3,398.85 L467.5,398.85 L467.7,398.85 L467.9,398.85 L468.1,398.85 L468.3,398.85 L468.5,398.85 L468.7,398.85 L468.9,398.85 L469.1,398.85 L469.3,398.85 L469.5,398.85 L469.7,398.85 L469.9,398.85 L470.1,398.85 L470.3,398.85 L470.5,398.85 L470.7,398.85 L470.9,398.85 L471.1,398.85 L471.3,398.85 L471.5,398.85 L471.7,398.85 L471.9,398.85 L472.1,398.85 L472.3,398.85 L472.5,398.85 L472.7,398.85 L472.9,398.85 L473.1,398.85 L473.3,398.85 L473.5,398.85 L473.7,398.85 L473.9,398.85 L474.1,398.85 L474.3,398.85 L474.5,398.85 L474.7,398.85 L474.9,398.85 L475.1,398.85 L475.3,398.85 L475.5,398.85 L475.7,398.85 L475.9,398.85 L476.1,398.85 L476.3,398.85 L476.5,398.85 L476.7,398.85 L476.9,398.85 L477.1,398.85 L477.3,398.85 L477.5,398.85 L477.7,398.85 L477.9,398.85 L478.1,398.85 L478.3,398.85 L478.5,398.85 L478.7,398.85 L478.9,398.85 L479.1,398.85 L479.3,398.85 L479.5,398.85 L479.7,398.85 L479.9,398.85 L480.1,398.85 L480.3,398.85 L480.5,398.85 L480.7,398.85 L480.9,398.85 L481.1,398.85 L481.3,398.85 L481.5,398.85 L481.7,398.85 L481.9,398.85 L482.1,398.85 L482.3,398.85 L482.5,398.85 L482.7,398.85 L482.9,398.85 L483.1,398.85 L483.3,398.85 L483.5,398.85 L483.7,398.85 L483.9,398.85 L484.1,398.85 L484.3,398.85 L484.5,398.85 L484.7,398.85 L484.9,398.85 L485.1,398.85 L485.3,398.85 L485.5,398.85 L485.7,398.85 L485.9,398.85 L486.1,398.85 L486.3,398.85 L486.5,398.85 L486.7,398.85 L486.9,398.85 L487.1,398.85 L487.3,398.85 L487.5,398.85 L487.7,398.85 L487.9,398.85 L488.1,398.85 L488.3,398.85 L488.5,398.85 L488.7,398.85 L488.9,398.85 L489.1,398.85 L489.3,398.85 L489.5,398.85 L489.7,398.85 L489.9,398.85 L490.1,398.85 L490.3,398.85 L490.5,398.85 L490.7,398.85 L490.9,398.85 L491.1,398.85 L491.3,398.85 L491.5,398.85 L491.7,398.85 L491.9,398.85 L492.1,398.85 L492.3,398.85 L492.5,398.85 L492.7,398.85 L492.9,398.85 L493.1,398.85 L493.3,398.85 L493.5,398.85 L493.7,398.85 L493.9,398.85 L494.1,398.85 L494.3,398.85 L494.5,398.85 L494.7,398.85 L494.9,398.85 L495.1,398.85 L495.3,398.85 L495.5,398.85 L495.7,398.85 L495.9,398.85 L496.1,398.85 L496.3,398.85 L496.5,398.85 L496.7,398.85 L496.9,398.85 L497.1,398.85 L497.3,398.85 L497.5,398.85 L497.7,398.85 L497.9,398.85 L498.1,398.85 L498.3,398.85 L498.5,398.85 L498.7,398.85 L498.9,398.85 L499.1,398.85 L499.3,398.85 L499.5,398.85 L499.7,398.85 L499.9,398.85 L500.1,398.85 L500.3,398.85 L500.5,398.85 L500.7,398.85 L500.9,398.85 L501.1,398.85 L501.3,398.84 L501.5,398.84 L501.7,398.84 L501.9,398.84 L502.1,398.84 L502.3,398.84 L502.5,398.84 L502.7,398.84 L502.9,398.84 L503.1,398.84 L503.3,398.84 L503.5,398.84 L503.7,398.84 L503.9,398.84 L504.1,398.84 L504.3,398.84 L504.5,398.84 L504.7,398.84 L504.9,398.84 L505.1,398.84 L505.3,398.84 L505.5,398.84 L505.7,398.84 L505.9,398.84 L506.1,398.84 L506.3,398.84 L506.5,398.84 L506.7,398.84 L506.9,398.84 L507.1,398.84 L507.3,398.84 L507.5,398.84 L507.7,398.84 L507.9,398.84 L508.1,398.84 L508.3,398.84 L508.5,398.84 L508.7,398.84 L508.9,398.84 L509.1,398.84 L509.3,398.84 L509.5,398.84 L509.7,398.84 L509.9,398.84 L510.1,398.84 L510.3,398.84 L510.5,398.84 L510.7,398.84 L510.9,398.84 L511.1,398.84 L511.3,398.84 L511.5,398.84 L511.7,398.84 L511.9,398.84 L512.1,398.84 L512.3,398.84 L512.5,398.84 L512.7,398.84 L512.9,398.84 L513.1,398.84 L513.3,398.84 L513.5,398.84 L513.7,398.84 L513.9,398.84 L514.1,398.84 L514.3,398.84 L514.5,398.84 L514.7,398.84 L514.9,398.84 L515.1,398.84 L515.3,398.84 L515.5,398.84 L515.7,398.84 L515.9,398.84 L516.1,398.84 L516.3,398.84 L516.5,398.84 L516.7,398.84 L516.9,398.84 L517.1,398.84 L517.3,398.84 L517.5,398.84 L517.7,398.84 L517.9,398.84 L518.1,398.84 L518.3,398.84 L518.5,398.84 L518.7,398.84 L518.9,398.84 L519.1,398.84 L519.3,398.84 L519.5,398.84 L519.7,398.84 L519.9,398.84 L520.1,398.84 L520.3,398.84 L520.5,398.84 L520.7,398.84 L520.9,398.84 L521.1,398.84 L521.3,398.84 L521.5,398.83 L521.7,398.83 L521.9,398.83 L522.1,398.83 L522.3,398.83 L522.5,398.83 L522.7,398.83 L522.9,398.83 L523.1,398.83 L523.3,398.83 L523.5,398.83 L523.7,398.83 L523.9,398.83 L524.1,398.83 L524.3,398.83 L524.5,398.83 L524.7,398.83 L524.9,398.83 L525.1,398.83 L525.3,398.83 L525.5,398.83 L525.7,398.83 L525.9,398.83 L526.1,398.83 L526.3,398.83 L526.5,398.83 L526.7,398.83 L526.9,398.83 L527.1,398.83 L527.3,398.83 L527.5,398.83 L527.7,398.83 L527.9,398.83 L528.1,398.83 L528.3,398.83 L528.5,398.83 L528.7,398.83 L528.9,398.83 L529.1,398.83 L529.3,398.83 L529.5,398.83 L529.7,398.83 L529.9,398.83 L530.1,398.83 L530.3,398.83 L530.5,398.83 L530.7,398.83 L530.9,398.83 L531.1,398.83 L531.3,398.83 L531.5,398.83 L531.7,398.83 L531.9,398.83 L532.1,398.83 L532.3,398.83 L532.5,398.83 L532.7,398.83 L532.9,398.83 L533.1,398.83 L533.3,398.83 L533.5,398.82 L533.7,398.82 L533.9,398.82 L534.1,398.82 L534.3,398.82 L534.5,398.82 L534.7,398.82 L534.9,398.82 L535.1,398.82 L535.3,398.82 L535.5,398.82 L535.7,398.82 L535.9,398.82 L536.1,398.82 L536.3,398.82 L536.5,398.82 L536.7,398.82 L536.9,398.82 L537.1,398.82 L537.3,398.82 L537.5,398.82 L537.7,398.82 L537.9,398.82 L538.1,398.82 L538.3,398.82 L538.5,398.82 L538.7,398.82 L538.9,398.82 L539.1,398.82 L539.3,398.82 L539.5,398.82 L539.7,398.82 L539.9,398.82 L540.1,398.82 L540.3,398.82 L540.5,398.82 L540.7,398.82 L540.9,398.82 L541.1,398.82 L541.3,398.82 L541.5,398.82 L541.7,398.82 L541.9,398.82 L542.1,398.81 L542.3,398.81 L542.5,398.81 L542.7,398.81 L542.9,398.81 L543.1,398.81 L543.3,398.81 L543.5,398.81 L543.7,398.81 L543.9,398.81 L544.1,398.81 L544.3,398.81 L544.5,398.81 L544.7,398.81 L544.9,398.81 L545.1,398.81 L545.3,398.81 L545.5,398.81 L545.7,398.81 L545.9,398.81 L546.1,398.81 L546.3,398.81 L546.5,398.81 L546.7,398.81 L546.9,398.81 L547.1,398.81 L547.3,398.81 L547.5,398.81 L547.7,398.81 L547.9,398.81 L548.1,398.81 L548.3,398.81 L548.5,398.81 L548.7,398.81 L548.9,398.80 L549.1,398.80 L549.3,398.80 L549.5,398.80 L549.7,398.80 L549.9,398.80 L550.1,398.80 L550.3,398.80 L550.5,398.80 L550.7,398.80 L550.9,398.80 L551.1,398.80 L551.3,398.80 L551.5,398.80 L551.7,398.80 L551.9,398.80 L552.1,398.80 L552.3,398.80 L552.5,398.80 L552.7,398.80 L552.9,398.80 L553.1,398.80 L553.3,398.80 L553.5,398.80 L553.7,398.80 L553.9,398.80 L554.1,398.80 L554.3,398.79 L554.5,398.79 L554.7,398.79 L554.9,398.79 L555.1,398.79 L555.3,398.79 L555.5,398.79 L555.7,398.79 L555.9,398.79 L556.1,398.79 L556.3,398.79 L556.5,398.79 L556.7,398.79 L556.9,398.79 L557.1,398.79 L557.3,398.79 L557.5,398.79 L557.7,398.79 L557.9,398.79 L558.1,398.79 L558.3,398.79 L558.5,398.79 L558.7,398.79 L558.9,398.78 L559.1,398.78 L559.3,398.78 L559.5,398.78 L559.7,398.78 L559.9,398.78 L560.1,398.78 L560.3,398.78 L560.5,398.78 L560.7,398.78 L560.9,398.78 L561.1,398.78 L561.3,398.78 L561.5,398.78 L561.7,398.78 L561.9,398.78 L562.1,398.78 L562.3,398.78 L562.5,398.78 L562.7,398.77 L562.9,398.77 L563.1,398.77 L563.3,398.77 L563.5,398.77 L563.7,398.77 L563.9,398.77 L564.1,398.77 L564.3,398.77 L564.5,398.77 L564.7,398.77 L564.9,398.77 L565.1,398.77 L565.3,398.77 L565.5,398.77 L565.7,398.77 L565.9,398.76 L566.1,398.76 L566.3,398.76 L566.5,398.76 L566.7,398.76 L566.9,398.76 L567.1,398.76 L567.3,398.76 L567.5,398.76 L567.7,398.76 L567.9,398.76 L568.1,398.76 L568.3,398.76 L568.5,398.76 L568.7,398.75 L568.9,398.75 L569.1,398.75 L569.3,398.75 L569.5,398.75 L569.7,398.75 L569.9,398.75 L570.1,398.75 L570.3,398.75 L570.5,398.75 L570.7,398.75 L570.9,398.75 L571.1,398.74 L571.3,398.74 L571.5,398.74 L571.7,398.74 L571.9,398.74 L572.1,398.74 L572.3,398.74 L572.5,398.74 L572.7,398.74 L572.9,398.74 L573.1,398.74 L573.3,398.73 L573.5,398.73 L573.7,398.73 L573.9,398.73 L574.1,398.73 L574.3,398.73 L574.5,398.73 L574.7,398.73 L574.9,398.73 L575.1,398.73 L575.3,398.72 L575.5,398.72 L575.7,398.72 L575.9,398.72 L576.1,398.72 L576.3,398.72 L576.5,398.72 L576.7,398.72 L576.9,398.71 L577.1,398.71 L577.3,398.71 L577.5,398.71 L577.7,398.71 L577.9,398.71 L578.1,398.71 L578.3,398.71 L578.5,398.70 L578.7,398.70 L578.9,398.70 L579.1,398.70 L579.3,398.70 L579.5,398.70 L579.7,398.69 L579.9,398.69 L580.1,398.69 L580.3,398.69 L580.5,398.69 L580.7,398.69 L580.9,398.68 L581.1,398.68 L581.3,398.68 L581.5,398.68 L581.7,398.68 L581.9,398.67 L582.1,398.67 L582.3,398.67 L582.5,398.67 L582.7,398.67 L582.9,398.66 L583.1,398.66 L583.3,398.66 L583.5,398.65 L583.7,398.65 L583.9,398.65 L584.1,398.65 L584.3,398.64 L584.5,398.64 L584.7,398.64 L584.9,398.63 L585.1,398.63 L585.3,398.63 L585.5,398.62 L585.7,398.62 L585.9,398.61 L586.1,398.61 L586.3,398.60 L586.5,398.60 L586.7,398.59 L586.9,398.58 L587.1,398.58 L587.3,398.57 L587.5,398.56 L587.7,398.55 L587.9,398.53 L588.1,398.52 L588.3,398.50 L588.5,398.47 L588.7,398.44 L588.9,398.40 L589.1,398.35 L589.3,398.28 L589.5,398.20 L589.7,398.11 L589.9,398.00 L590.1,397.89 L590.3,397.77 L590.5,397.66 L590.7,397.57 L590.9,397.52 L591.1,397.51 L591.3,397.54 L591.5,397.61 L591.7,397.70 L591.9,397.79 L592.1,397.88 L592.3,397.96 L592.5,398.03 L592.7,398.07 L592.9,398.10 L593.1,398.10 L593.3,398.08 L593.5,398.03 L593.7,397.93 L593.9,397.78 L594.1,397.57 L594.3,397.29 L594.5,396.91 L594.7,396.44 L594.9,395.87 L595.1,395.21 L595.3,394.50 L595.5,393.76 L595.7,393.06 L595.9,392.47 L596.1,392.07 L596.3,391.92 L596.5,392.06 L596.7,392.44 L596.9,393.01 L597.1,393.69 L597.3,394.41 L597.5,395.10 L597.7,395.74 L597.9,396.29 L598.1,396.74 L598.3,397.10 L598.5,397.36 L598.7,397.55 L598.9,397.67 L599.1,397.74 L599.3,397.77 L599.5,397.77 L599.7,397.73 L599.9,397.66 L600.1,397.55 L600.3,397.39 L600.5,397.16 L600.7,396.84 L600.9,396.42 L601.1,395.86 L601.3,395.17 L601.5,394.33 L601.7,393.36 L601.9,392.29 L602.1,391.18 L602.3,390.11 L602.5,389.19 L602.7,388.57 L602.9,388.34 L603.1,388.56 L603.3,389.17 L603.5,390.07 L603.7,391.13 L603.9,392.23 L604.1,393.29 L604.3,394.24 L604.5,395.07 L604.7,395.75 L604.9,396.29 L605.1,396.71 L605.3,397.01 L605.5,397.23 L605.7,397.38 L605.9,397.47 L606.1,397.53 L606.3,397.55 L606.5,397.55 L606.7,397.52 L606.9,397.46 L607.1,397.37 L607.3,397.24 L607.5,397.06 L607.7,396.82 L607.9,396.51 L608.1,396.13 L608.3,395.66 L608.5,395.11 L608.7,394.50 L608.9,393.83 L609.1,393.15 L609.3,392.49 L609.5,391.94 L609.7,391.57 L609.9,391.44 L610.1,391.57 L610.3,391.95 L610.5,392.50 L610.7,393.16 L610.9,393.84 L611.1,394.52 L611.3,395.14 L611.5,395.69 L611.7,396.16 L611.9,396.56 L612.1,396.87 L612.3,397.13 L612.5,397.32 L612.7,397.47 L612.9,397.58 L613.1,397.67 L613.3,397.73 L613.5,397.78 L613.7,397.82 L613.9,397.85 L614.1,397.87 L614.3,397.89 L614.5,397.91 L614.7,397.92 L614.9,397.93 L615.1,397.94 L615.3,397.94 L615.5,397.95 L615.7,397.95 L615.9,397.95 L616.1,397.95 L616.3,397.95 L616.5,397.95 L616.7,397.95 L616.9,397.94 L617.1,397.94 L617.3,397.94 L617.5,397.93 L617.7,397.92 L617.9,397.92 L618.1,397.91 L618.3,397.90 L618.5,397.89 L618.7,397.88 L618.9,397.87 L619.1,397.86 L619.3,397.85 L619.5,397.84 L619.7,397.83 L619.9,397.82 L620.1,397.80 L620.3,397.79 L620.5,397.78 L620.7,397.76 L620.9,397.75 L621.1,397.73 L621.3,397.72 L621.5,397.70 L621.7,397.68 L621.9,397.66 L622.1,397.64 L622.3,397.62 L622.5,397.60 L622.7,397.58 L622.9,397.56 L623.1,397.54 L623.3,397.52 L623.5,397.49 L623.7,397.47 L623.9,397.44 L624.1,397.42 L624.3,397.39 L624.5,397.36 L624.7,397.33 L624.9,397.30 L625.1,397.27 L625.3,397.24 L625.5,397.20 L625.7,397.17 L625.9,397.13 L626.1,397.09 L626.3,397.05 L626.5,397.01 L626.7,396.96 L626.9,396.91 L627.1,396.86 L627.3,396.81 L627.5,396.75 L627.7,396.69 L627.9,396.62 L628.1,396.55 L628.3,396.47 L628.5,396.39 L628.7,396.29 L628.9,396.19 L629.1,396.08 L629.3,395.96 L629.5,395.83 L629.7,395.69 L629.9,395.54 L630.1,395.37 L630.3,395.20 L630.5,395.01 L630.7,394.81 L630.9,394.59 L631.1,394.37 L631.3,394.14 L631.5,393.90 L631.7,393.65 L631.9,393.40 L632.1,393.14 L632.3,392.89 L632.5,392.64 L632.7,392.39 L632.9,392.15 L633.1,391.93 L633.3,391.71 L633.5,391.51 L633.7,391.33 L633.9,391.15 L634.1,390.98 L634.3,390.81 L634.5,390.65 L634.7,390.48 L634.9,390.30 L635.1,390.10 L635.3,389.88 L635.5,389.63 L635.7,389.35 L635.9,389.03 L636.1,388.66 L636.3,388.24 L636.5,387.76 L636.7,387.22 L636.9,386.59 L637.1,385.88 L637.3,385.07 L637.5,384.14 L637.7,383.07 L637.9,381.84 L638.1,380.40 L638.3,378.72 L638.5,376.74 L638.7,374.38 L638.9,371.56 L639.1,368.18 L639.3,364.13 L639.5,359.26 L639.7,353.43 L639.9,346.50 L640.1,338.34 L640.3,328.81 L640.5,317.84 L640.7,305.43 L640.9,291.67 L641.1,276.85 L641.3,261.53 L641.5,246.62 L641.7,233.40 L641.9,223.42 L642.1,218.11 L642.3,218.34 L642.5,224.02 L642.7,234.17 L642.9,247.31 L643.1,261.91 L643.3,276.73 L643.5,290.91 L643.7,303.94 L643.9,315.56 L644.1,325.68 L644.3,334.32 L644.5,341.56 L644.7,347.53 L644.9,352.36 L645.1,356.19 L645.3,359.18 L645.5,361.45 L645.7,363.12 L645.9,364.29 L646.1,365.05 L646.3,365.47 L646.5,365.62 L646.7,365.55 L646.9,365.29 L647.1,364.88 L647.3,364.36 L647.5,363.74 L647.7,363.07 L647.9,362.34 L648.1,361.60 L648.3,360.84 L648.5,360.10 L648.7,359.39 L648.9,358.72 L649.1,358.11 L649.3,357.57 L649.5,357.09 L649.7,356.71 L649.9,356.41 L650.1,356.20 L650.3,356.08 L650.5,356.05 L650.7,356.11 L650.9,356.24 L651.1,356.44 L651.3,356.70 L651.5,357.00 L651.7,357.32 L651.9,357.64 L652.1,357.94 L652.3,358.18 L652.5,358.35 L652.7,358.39 L652.9,358.26 L653.1,357.93 L653.3,357.32 L653.5,356.38 L653.7,355.04 L653.9,353.24 L654.1,350.89 L654.3,347.92 L654.5,344.27 L654.7,339.86 L654.9,334.66 L655.1,328.63 L655.3,321.79 L655.5,314.21 L655.7,306.01 L655.9,297.46 L656.1,288.94 L656.3,280.97 L656.5,274.21 L656.7,269.33 L656.9,266.82 L657.1,266.89 L657.3,269.32 L657.5,273.53 L657.7,278.75 L657.9,284.17 L658.1,289.06 L658.3,292.86 L658.5,295.16 L658.7,295.71 L658.9,294.40 L659.1,291.24 L659.3,286.41 L659.5,280.20 L659.7,273.08 L659.9,265.71 L660.1,258.92 L660.3,253.70 L660.5,251.02 L660.7,251.57 L660.9,255.59 L661.1,262.74 L661.3,272.26 L661.5,283.26 L661.7,294.90 L661.9,306.51 L662.1,317.58 L662.3,327.79 L662.5,336.92 L662.7,344.89 L662.9,351.70 L663.1,357.39 L663.3,362.07 L663.5,365.88 L663.7,368.94 L663.9,371.40 L664.1,373.39 L664.3,375.00 L664.5,376.33 L664.7,377.44 L664.9,378.40 L665.1,379.24 L665.3,379.99 L665.5,380.67 L665.7,381.31 L665.9,381.90 L666.1,382.45 L666.3,382.98 L666.5,383.48 L666.7,383.96 L666.9,384.43 L667.1,384.87 L667.3,385.31 L667.5,385.73 L667.7,386.13 L667.9,386.53 L668.1,386.91 L668.3,387.29 L668.5,387.65 L668.7,388.00 L668.9,388.35 L669.1,388.69 L669.3,389.02 L669.5,389.34 L669.7,389.65 L669.9,389.96 L670.1,390.25 L670.3,390.54 L670.5,390.82 L670.7,391.10 L670.9,391.37 L671.1,391.63 L671.3,391.88 L671.5,392.12 L671.7,392.36 L671.9,392.59 L672.1,392.82 L672.3,393.03 L672.5,393.24 L672.7,393.45 L672.9,393.64 L673.1,393.83 L673.3,394.02 L673.5,394.19 L673.7,394.36 L673.9,394.53 L674.1,394.68 L674.3,394.84 L674.5,394.98 L674.7,395.12 L674.9,395.26 L675.1,395.38 L675.3,395.51 L675.5,395.63 L675.7,395.74 L675.9,395.85 L676.1,395.95 L676.3,396.05 L676.5,396.15 L676.7,396.24 L676.9,396.33 L677.1,396.41 L677.3,396.49 L677.5,396.56 L677.7,396.63 L677.9,396.70 L678.1,396.77 L678.3,396.83 L678.5,396.89 L678.7,396.95 L678.9,397.00 L679.1,397.05 L679.3,397.10 L679.5,397.15 L679.7,397.19 L679.9,397.24 L680.1,397.28 L680.3,397.32 L680.5,397.35 L680.7,397.39 L680.9,397.42 L681.1,397.46 L681.3,397.49 L681.5,397.52 L681.7,397.55 L681.9,397.57 L682.1,397.60 L682.3,397.63 L682.5,397.65 L682.7,397.67 L682.9,397.70 L683.1,397.72 L683.3,397.74 L683.5,397.76 L683.7,397.78 L683.9,397.80 L684.1,397.82 L684.3,397.83 L684.5,397.85 L684.7,397.87 L684.9,397.88 L685.1,397.90 L685.3,397.92 L685.5,397.93 L685.7,397.94 L685.9,397.96 L686.1,397.97 L686.3,397.99 L686.5,398.00 L686.7,398.01 L686.9,398.02 L687.1,398.04 L687.3,398.05 L687.5,398.06 L687.7,398.07 L687.9,398.08 L688.1,398.09 L688.3,398.10 L688.5,398.11 L688.7,398.12 L688.9,398.13 L689.1,398.14 L689.3,398.15 L689.5,398.16 L689.7,398.17 L689.9,398.18 L690.1,398.19 L690.3,398.20 L690.5,398.20 L690.7,398.21 L690.9,398.22 L691.1,398.23 L691.3,398.24 L691.5,398.24 L691.7,398.25 L691.9,398.26 L692.1,398.27 L692.3,398.27 L692.5,398.28 L692.7,398.29 L692.9,398.29 L693.1,398.30 L693.3,398.31 L693.5,398.31 L693.7,398.32 L693.9,398.33 L694.1,398.33 L694.3,398.34 L694.5,398.34 L694.7,398.35 L694.9,398.36 L695.1,398.36 L695.3,398.37 L695.5,398.37 L695.7,398.38 L695.9,398.38 L696.1,398.39 L696.3,398.39 L696.5,398.40 L696.7,398.40 L696.9,398.41 L697.1,398.41 L697.3,398.42 L697.5,398.42 L697.7,398.43 L697.9,398.43 L698.1,398.44 L698.3,398.44 L698.5,398.45 L698.7,398.45 L698.9,398.45 L699.1,398.46 L699.3,398.46 L699.5,398.47 L699.7,398.47 L699.9,398.47 L700.1,398.48 L700.3,398.48 L700.5,398.49 L700.7,398.49 L700.9,398.49 L701.1,398.50 L701.3,398.50 L701.5,398.50 L701.7,398.51 L701.9,398.51 L702.1,398.51 L702.3,398.52 L702.5,398.52 L702.7,398.52 L702.9,398.53 L703.1,398.53 L703.3,398.53 L703.5,398.54 L703.7,398.54 L703.9,398.54 L704.1,398.55 L704.3,398.55 L704.5,398.55 L704.7,398.55 L704.9,398.56 L705.1,398.56 L705.3,398.56 L705.5,398.57 L705.7,398.57 L705.9,398.57 L706.1,398.57 L706.3,398.58 L706.5,398.58 L706.7,398.58 L706.9,398.58 L707.1,398.59 L707.3,398.59 L707.5,398.59 L707.7,398.59 L707.9,398.60 L708.1,398.60 L708.3,398.60 L708.5,398.60 L708.7,398.60 L708.9,398.61 L709.1,398.61 L709.3,398.61 L709.5,398.61 L709.7,398.62 L709.9,398.62 L710.1,398.62 L710.3,398.62 L710.5,398.62 L710.7,398.63 L710.9,398.63 L711.1,398.63 L711.3,398.63 L711.5,398.63 L711.7,398.63 L711.9,398.64 L712.1,398.64 L712.3,398.64 L712.5,398.64 L712.7,398.64 L712.9,398.65 L713.1,398.65 L713.3,398.65 L713.5,398.65 L713.7,398.65 L713.9,398.65 L714.1,398.66 L714.3,398.66 L714.5,398.66 L714.7,398.66 L714.9,398.66" fill="none" stroke="#d24a40" stroke-width="3.8" stroke-linejoin="round" stroke-linecap="round"/>
</svg>
</body></html>
